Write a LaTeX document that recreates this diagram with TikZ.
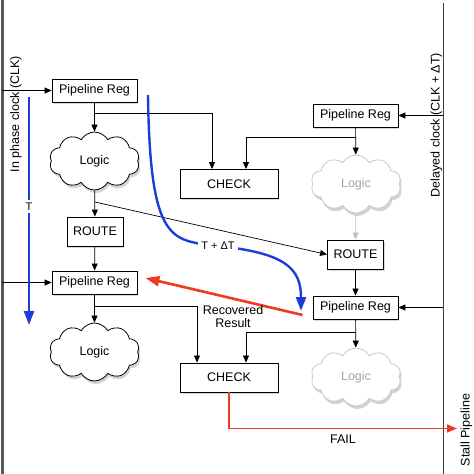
\documentclass[tikz,border=0pt]{standalone}
\usepackage{fontspec}
\setmainfont{Liberation Sans}
\usetikzlibrary{arrows.meta, shapes.symbols, shadows}
\definecolor{clkblue}{HTML}{1E3CD8}
\definecolor{failred}{HTML}{EE3A1E}

\begin{document}
\begin{tikzpicture}[x=1pt, y=-1pt,
    font=\fontsize{12.5}{13}\selectfont,
    boxbase/.style={draw, line width=0.9pt, fill=white, inner sep=2pt,
          drop shadow={shadow xshift=1pt, shadow yshift=-1.5pt, opacity=0.3}},
    regbox/.style={boxbase, minimum width=85pt, minimum height=23pt},
    checkbox/.style={boxbase, minimum width=98pt, minimum height=29pt},
    routebox/.style={boxbase, minimum width=56pt, minimum height=29pt},
    logic/.style={cloud, cloud puffs=10, cloud puff arc=120, cloud ignores aspect,
          draw, line width=0.8pt, fill=white, inner sep=0pt,
          minimum width=90pt, minimum height=58pt,
          drop shadow={shadow xshift=1.5pt, shadow yshift=-3pt, opacity=0.35}},
    faded/.style={logic, draw=black!22, text=black!35},
    conn/.style={-{Triangle[length=7pt,width=6pt]}, line width=0.7pt},
    clkpath/.style={-{Triangle[length=14pt,width=10pt]}, line width=2.4pt, clkblue},
    failline/.style={-{Triangle[length=10pt,width=8pt]}, line width=1.6pt, failred},
    recover/.style={-{Triangle[length=14pt,width=10pt]}, line width=2.6pt, failred},
    small/.style={font=\fontsize{11}{12}\selectfont}]
  \useasboundingbox (0,0) rectangle (474,474);

  % clock lines
  \coordinate (lclk) at (2,0);
  \coordinate (lclkend) at (2,474);
  \coordinate (rclk) at (443,3);
  \coordinate (rclkend) at (443,474);
  \draw[line width=3pt, black!65] (lclk) -- (lclkend);
  \draw[line width=1pt, black!75] (rclk) -- (rclkend);
  \node[rotate=90] (inclk) at (16,114) {In phase clock (CLK)};
  \node[rotate=90] (delclk) at (436.5,125) {Delayed clock (CLK + ΔT)};
  \node[rotate=90] (stall) at (466.5,430) {Stall Pipeline};

  % stages
  \node[regbox] (pr1) at (94.5,90.5) {Pipeline Reg};
  \node[logic] (logic1) at (94.5,161) {Logic};
  \node[checkbox] (check1) at (229,184) {CHECK};
  \node[regbox] (pr2) at (355.5,115.5) {Pipeline Reg};
  \node[faded] (logic2) at (356,184) {Logic};
  \node[routebox] (route1) at (95,231.5) {ROUTE};
  \node[routebox] (route2) at (355.5,254.5) {ROUTE};
  \node[regbox] (pr3) at (94.5,282.5) {Pipeline Reg};
  \node[regbox] (pr4) at (355.5,307.5) {Pipeline Reg};
  \node[logic] (logic3) at (94.5,352) {Logic};
  \node[checkbox] (check2) at (229,377.5) {CHECK};
  \node[faded] (logic4) at (356,377) {Logic};

  % clock inputs
  \draw[conn] (pr1.west -| lclk) -- (pr1.west);
  \draw[conn] (pr3.west -| lclk) -- (pr3.west);
  \draw[conn] (pr2.east -| rclk) -- (pr2.east);
  \draw[conn] (pr4.east -| rclk) -- (pr4.east);

  % data paths
  \draw[conn] (pr1) -- (logic1);
  \draw[conn] (pr1.south) ++(0,11) -| ([xshift=-17pt]check1.north);
  \draw[conn] (pr2) -- (logic2);
  \draw[conn] (pr2.south) ++(0,10) -| ([xshift=17pt]check1.north);
  \draw[conn, black!25] (logic2) -- (route2);
  \draw[conn] (logic1) -- (route1);
  \coordinate (split1) at (95,202);
  \draw[conn] (split1) -- (route2.west);
  \draw[conn] (route1) -- (pr3);
  \draw[conn] (route2) -- (pr4);
  \draw[conn] (pr3) -- (logic3);
  \draw[conn] (pr3.south) ++(0,12) -| ([xshift=-32pt]check2.north);
  \draw[conn] (pr4) -- (logic4);
  \draw[conn] (pr4.south) ++(0,13) -| ([xshift=17pt]check2.north);

  % failure and recovery
  \coordinate (stallpt) at (457,428.5);
  \draw[failline] (check2.south) |- (stallpt) node[pos=0.75, below=2pt, text=black] {FAIL};
  \draw[recover] ([xshift=-10pt,yshift=-7.5pt]pr4.west) -- ([xshift=8pt,yshift=4.5pt]pr3.east);
  \node[align=center] (reclabel) at (233,317) {Recovered\\Result};

  % timing
  \coordinate (tstart) at (29,97);
  \coordinate (tend) at (29,325);
  \draw[clkpath] (tstart) -- (tend) node[pos=0.48, fill=white, inner sep=3pt, small, text=black] {T};
  \coordinate (dstart) at (148,95);
  \coordinate (dend) at (301,311);
  \draw[clkpath] (dstart) .. controls (150,245) and (172,240) .. (218,246)
    node[fill=white, inner sep=3pt, small, text=black] {T + ΔT}
    .. controls (285,253) and (301,268) .. (dend);
\end{tikzpicture}
\end{document}
